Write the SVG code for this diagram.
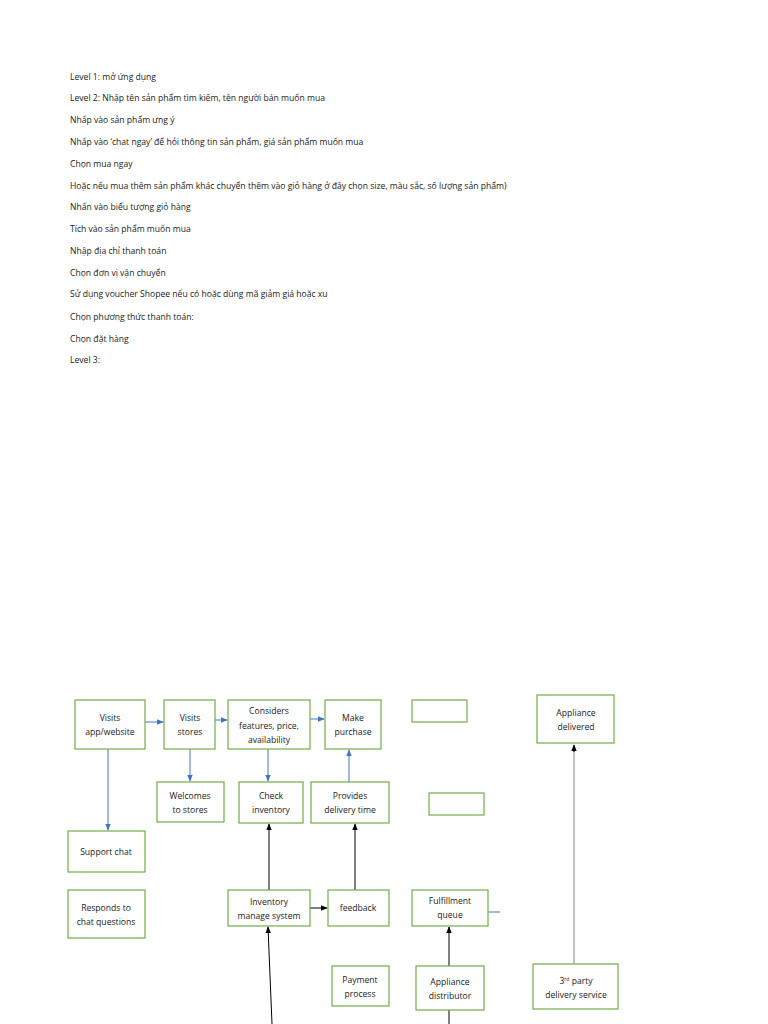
<svg xmlns="http://www.w3.org/2000/svg" width="768" height="1024" viewBox="0 0 768 1024">
<style>
.t{font-family:"Open Sans","Liberation Sans",sans-serif;font-size:8.6px;fill:#222}
.b rect{fill:#fff;stroke:#70ad47;stroke-width:1.2}
.b text{font-family:"Open Sans","Liberation Sans",sans-serif;font-size:8.6px;fill:#222;text-anchor:middle}
.bl{stroke:#4472c4;stroke-width:1;fill:none}
.k{stroke:#000;stroke-width:1;fill:none}
.g{stroke:#999;stroke-width:1.2;fill:none}
</style>
<defs>
<marker id="ab" viewBox="0 0 10 10" refX="9" refY="5" markerWidth="7" markerHeight="7" orient="auto"><path d="M0,1 L10,5 L0,9z" fill="#4472c4"/></marker>
<marker id="ak" viewBox="0 0 10 10" refX="9" refY="5" markerWidth="7" markerHeight="7" orient="auto"><path d="M0,1 L10,5 L0,9z" fill="#000"/></marker>
</defs>
<rect width="768" height="1024" fill="#fff"/>
<g id="textblock" class="t">
<text x="70" y="80">Level 1: mở ứng dụng</text>
<text x="70" y="101">Level 2: Nhập tên sản phẩm tìm kiếm, tên người bán muốn mua</text>
<text x="70" y="123">Nhấp vào sản phẩm ưng ý</text>
<text x="70" y="145">Nhấp vào ‘chat ngay’ để hỏi thông tin sản phẩm, giá sản phẩm muốn mua</text>
<text x="70" y="167">Chọn mua ngay</text>
<text x="70" y="189">Hoặc nếu mua thêm sản phẩm khác chuyển thêm vào giỏ hàng ở đây chọn size, màu sắc, số lượng sản phẩm)</text>
<text x="70" y="210">Nhấn vào biểu tượng giỏ hàng</text>
<text x="70" y="232">Tích vào sản phẩm muốn mua</text>
<text x="70" y="254">Nhập địa chỉ thanh toán</text>
<text x="70" y="276">Chọn đơn vị vận chuyển</text>
<text x="70" y="297">Sử dụng voucher Shopee nếu có hoặc dùng mã giảm giá hoặc xu</text>
<text x="70" y="320">Chọn phương thức thanh toán:</text>
<text x="70" y="342">Chọn đặt hàng</text>
<text x="70" y="363">Level 3:</text>
</g>
<g id="connectors">
<line class="bl" x1="145" y1="722" x2="163" y2="722" marker-end="url(#ab)"/>
<line class="bl" x1="215" y1="720" x2="227" y2="720" marker-end="url(#ab)"/>
<line class="bl" x1="310" y1="719" x2="324" y2="719" marker-end="url(#ab)"/>
<line class="bl" x1="108" y1="749" x2="108" y2="830" marker-end="url(#ab)"/>
<line class="bl" x1="190" y1="749" x2="190" y2="781" marker-end="url(#ab)"/>
<line class="bl" x1="268" y1="749" x2="268" y2="781" marker-end="url(#ab)"/>
<line class="bl" x1="349" y1="782" x2="349" y2="750" marker-end="url(#ab)"/>
<line class="k" x1="272" y1="1024" x2="268" y2="927" marker-end="url(#ak)"/>
<line class="k" x1="269" y1="890" x2="269" y2="824" marker-end="url(#ak)"/>
<line class="k" x1="355" y1="890" x2="355" y2="824" marker-end="url(#ak)"/>
<line class="k" x1="310" y1="908" x2="327" y2="908" marker-end="url(#ak)"/>
<line class="k" x1="449" y1="966" x2="449" y2="927" marker-end="url(#ak)"/>
<line class="k" x1="449" y1="1010" x2="449" y2="1024"/>
<line class="g" x1="574" y1="964" x2="574" y2="747"/>
<line class="k" x1="574" y1="752" x2="574" y2="745" marker-end="url(#ak)"/>
<line class="bl" x1="488" y1="912" x2="500" y2="912" stroke="#a9c0e8"/>
</g>
<g id="n1" class="b"><rect x="75" y="700" width="70" height="49"/><text x="110" y="721">Visits</text><text x="110" y="735">app/website</text></g>
<g id="n2" class="b"><rect x="164" y="700" width="51" height="49"/><text x="190" y="721">Visits</text><text x="190" y="735">stores</text></g>
<g id="n3" class="b"><rect x="228" y="700" width="82" height="49"/><text x="269" y="714">Considers</text><text x="269" y="729">features, price,</text><text x="269" y="743">availability</text></g>
<g id="n4" class="b"><rect x="325" y="700" width="56" height="49"/><text x="353" y="721">Make</text><text x="353" y="735">purchase</text></g>
<g id="n5" class="b"><rect x="412" y="700" width="55" height="22"/></g>
<g id="n6" class="b"><rect x="537" y="695" width="77" height="48"/><text x="576" y="716">Appliance</text><text x="576" y="730">delivered</text></g>
<g id="n7" class="b"><rect x="157" y="782" width="67" height="40"/><text x="190" y="799">Welcomes</text><text x="190" y="813">to stores</text></g>
<g id="n8" class="b"><rect x="239" y="782" width="64" height="41"/><text x="271" y="799">Check</text><text x="271" y="813">inventory</text></g>
<g id="n9" class="b"><rect x="311" y="782" width="78" height="41"/><text x="350" y="799">Provides</text><text x="350" y="813">delivery time</text></g>
<g id="n10" class="b"><rect x="429" y="793" width="55" height="22"/></g>
<g id="n11" class="b"><rect x="68" y="831" width="77" height="41"/><text x="106" y="855">Support chat</text></g>
<g id="n12" class="b"><rect x="68" y="890" width="77" height="48"/><text x="106" y="911">Responds to</text><text x="106" y="925">chat questions</text></g>
<g id="n13" class="b"><rect x="228" y="890" width="82" height="36"/><text x="269" y="905">Inventory</text><text x="269" y="919">manage system</text></g>
<g id="n14" class="b"><rect x="328" y="890" width="61" height="36"/><text x="358" y="911">feedback</text></g>
<g id="n15" class="b"><rect x="412" y="890" width="76" height="36"/><text x="450" y="904">Fulfillment</text><text x="450" y="918">queue</text></g>
<g id="n16" class="b"><rect x="332" y="966" width="57" height="40"/><text x="360" y="983">Payment</text><text x="360" y="997">process</text></g>
<g id="n17" class="b"><rect x="416" y="966" width="68" height="44"/><text x="450" y="985">Appliance</text><text x="450" y="999">distributor</text></g>
<g id="n18" class="b"><rect x="533" y="964" width="85" height="45"/><text x="576" y="984">3<tspan font-size="5" dy="-3">rd</tspan><tspan dy="3"> party</tspan></text><text x="576" y="998">delivery service</text></g>
</svg>
